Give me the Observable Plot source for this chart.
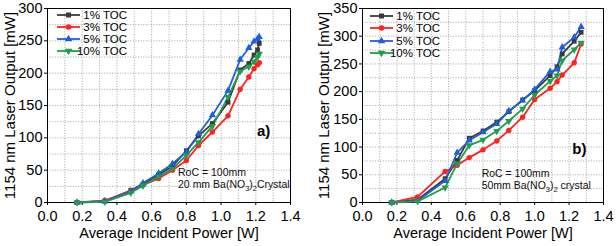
<!DOCTYPE html>
<html><head><meta charset="utf-8">
<script src="https://cdn.jsdelivr.net/npm/d3@7"></script>
<script src="https://cdn.jsdelivr.net/npm/@observablehq/plot@0.6"></script>
<style>
body{margin:0;background:#fff;}
#wrap{display:flex;width:616px;height:246px;overflow:hidden;}
</style></head><body><div id="wrap"></div>
<script>
// ---------- data ----------
const seriesNames = ["1% TOC", "3% TOC", "5% TOC", "10% TOC"];
const seriesColors = ["#3a3a3a", "#ff2222", "#1f5fd8", "#1f9e4e"];
const seriesSymbols = ["square", "circle", "triangle", "triangle"];

const xTicks = [0.0, 0.2, 0.4, 0.6, 0.8, 1.0, 1.2, 1.4];
const yTicksA = [0, 50, 100, 150, 200, 250, 300];
const yTicksB = [0, 50, 100, 150, 200, 250, 300, 350];

// panel a) 20 mm crystal
const xA = [0.17, 0.33, 0.48, 0.55, 0.64, 0.72, 0.80, 0.87, 0.95, 1.04, 1.11, 1.16, 1.19, 1.21, 1.22];
const a1 = [0, 2, 19, 28, 43, 56, 80, 103, 122, 155, 205, 215, 228, 236, 246];
const a3 = [0, 3, 18, 27, 37, 50, 65, 88, 109, 134, 175, 194, 207, 213, 216];
const a5 = [0, 2, 17, 30, 45, 60, 78, 106, 135, 173, 221, 239, 249, 253, 256];
const a10 = [0, 1, 15, 26, 40, 52, 73, 93, 118, 163, 203, 210, 218, 225, 230];

// panel b) 50 mm crystal
const xB = [0.17, 0.32, 0.48, 0.55, 0.62, 0.70, 0.78, 0.85, 0.93, 1.00, 1.09, 1.13, 1.16, 1.23, 1.27];
const b1 = [0, 5, 43, 76, 116, 129, 145, 164, 185, 202, 229, 245, 268, 291, 307];
const b3 = [0, 10, 56, 67, 81, 95, 111, 130, 154, 186, 206, 218, 230, 252, 286];
const b5 = [0, 3, 39, 90, 112, 127, 142, 165, 184, 204, 236, 240, 280, 298, 317];
const b10 = [0, 2, 27, 70, 103, 113, 129, 147, 169, 194, 219, 229, 256, 276, 288];

const xLabel = "Average Incident Power [W]";
const yLabel = "1154 nm Laser Output [mW]";
const FONT = '"Liberation Sans", Arial, sans-serif';

function rowsOf(xs, ys) {
  const rows = [];
  ys.forEach((arr, k) => arr.forEach((v, i) => rows.push({x: xs[i], y: v, s: seriesNames[k]})));
  return rows;
}

function legendMark(rowY, lx0, lx1, textEnd) {
  return () => {
    const g = d3.create("svg:g");
    seriesNames.forEach((name, k) => {
      const y = rowY[k];
      g.append("line").attr("x1", lx0).attr("x2", lx1).attr("y1", y).attr("y2", y)
        .attr("stroke", seriesColors[k]).attr("stroke-width", 1.8);
      const type = [d3.symbolSquare, d3.symbolCircle, d3.symbolTriangle, d3.symbolTriangle][k];
      g.append("path").attr("d", d3.symbol(type, Math.PI * 2.8 * 2.8)())
        .attr("fill", seriesColors[k])
        .attr("transform", `translate(${(lx0 + lx1) / 2},${y})` + (k === 3 ? " rotate(180)" : ""));
      g.append("text").attr("x", textEnd).attr("y", y).attr("dy", "0.36em")
        .attr("text-anchor", "end").attr("font-size", 11.5).attr("font-family", FONT)
        .attr("fill", "black").text(name);
    });
    return g.node();
  };
}

function noteMark(x, y, line1, crystalPrefix, crystalSuffix) {
  return (index, scales) => {
    const g = d3.create("svg:g").attr("text-anchor", "start");
    const px = scales.x(x), py = scales.y(y);
    g.append("text").attr("x", px).attr("y", py).attr("dy", "0.36em")
      .attr("font-size", 10.5).attr("font-family", FONT).attr("fill", "#111").text(line1);
    const t = g.append("text").attr("x", px).attr("y", py + 12).attr("dy", "0.36em")
      .attr("font-size", 10.5).attr("font-family", FONT).attr("fill", "#111");
    t.append("tspan").text(crystalPrefix + "Ba(NO");
    t.append("tspan").attr("font-size", 7.5).attr("dy", "3").text("3");
    t.append("tspan").attr("dy", "-3").text(")");
    t.append("tspan").attr("font-size", 7.5).attr("dy", "3").text("2");
    t.append("tspan").attr("dy", "-3").text(crystalSuffix);
    return g.node();
  };
}

function panel({xs, ys, yTicks, yMax, mLeft, mRight, yLabDx, legRows, legX0, legX1, legEnd, note, tag}) {
  const rows = rowsOf(xs, ys);
  return Plot.plot({
    width: 308, height: 246,
    marginLeft: mLeft, marginRight: mRight, marginTop: 8, marginBottom: 44,
    x: {domain: [0, 1.4]},
    y: {domain: [0, yMax]},
    color: {domain: seriesNames, range: seriesColors},
    symbol: {domain: seriesNames, range: seriesSymbols},
    style: {fontFamily: FONT, fontSize: "14.5px", color: "black", background: "white", overflow: "visible"},
    marks: [
      Plot.ruleX(d3.range(0, 1.401, 0.1), {stroke: "#9a9a9a", strokeDasharray: "1,1.6", strokeWidth: 0.9}),
      Plot.ruleY(d3.range(0, yMax + 0.1, 25), {stroke: "#9a9a9a", strokeDasharray: "1,1.6", strokeWidth: 0.9}),
      Plot.frame({stroke: "black", strokeWidth: 1}),
      Plot.axisX({ticks: xTicks, tickFormat: d => d.toFixed(1), tickSize: 3, tickPadding: 5, label: null}),
      Plot.axisY({ticks: yTicks, tickSize: 3, tickPadding: 2, label: null}),
      Plot.text([xLabel], {frameAnchor: "bottom", dy: 35, fontSize: 14.5}),
      Plot.text([yLabel], {frameAnchor: "left", textAnchor: "middle", dx: yLabDx, rotate: -90, fontSize: 15}),
      Plot.line(rows, {x: "x", y: "y", z: "s", stroke: "s", strokeWidth: 1.8}),
      Plot.dot(rows, {x: "x", y: "y", symbol: "s", fill: "s", r: 2.7,
        rotate: d => d.s === "10% TOC" ? 180 : 0}),
      legendMark(legRows, legX0, legX1, legEnd),
      noteMark(note.x, note.y, "RoC = 100mm", note.prefix, note.suffix),
      Plot.text([tag.text], {x: () => tag.x, y: () => tag.y, fontSize: 15, fontWeight: "bold"})
    ]
  });
}

const wrap = document.getElementById("wrap");
wrap.append(panel({
  xs: xA, ys: [a1, a3, a5, a10], yTicks: yTicksA, yMax: 300,
  mLeft: 47, mRight: 18, yLabDx: -37,
  legRows: [15, 27, 39, 51], legX0: 57, legX1: 80, legEnd: 127,
  note: {x: 0.755, y: 46, prefix: "20 mm ", suffix: "Crystal"},
  tag: {text: "a)", x: 1.245, y: 110}
}));
wrap.append(panel({
  xs: xB, ys: [b1, b3, b5, b10], yTicks: yTicksB, yMax: 350,
  mLeft: 54, mRight: 13, yLabDx: -38,
  legRows: [16, 28, 41, 53], legX0: 62, legX1: 85, legEnd: 132,
  note: {x: 0.695, y: 52, prefix: "50mm ", suffix: " crystal"},
  tag: {text: "b)", x: 1.26, y: 96}
}));
</script></body></html>
